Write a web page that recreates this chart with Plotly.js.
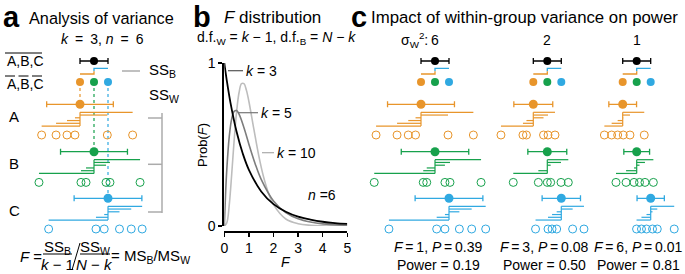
<!DOCTYPE html>
<html><head><meta charset="utf-8">
<script src="https://cdn.plot.ly/plotly-3.0.1.min.js"></script>
<style>html,body{margin:0;padding:0;background:#fff}#chart{width:685px;height:274px}</style>
</head><body><div id="chart"></div>
<script>
// ---------------- data ----------------
const groups = ['A', 'B', 'C'];
const groupMeans = [9, 10, 11];
const grandMean = 10;
const grandSd = 1.0;
// panel a (k = 3, n = 6)
const obsA_a = [6.26, 7.29, 8.07, 8.64, 10.95, 12.76];
const obsB_a = [6.07, 9.07, 9.43, 10.86, 11.14, 13.29];
const obsC_a = [6.76, 10.14, 10.73, 11.82, 12.66, 13.44];
const sd_a = [2.38, 2.39, 2.42];
// panel c, sigma_W^2 = 6
const obsA_s6 = [5.79, 7.29, 8.09, 8.61, 10.93, 12.74];
const obsB_s6 = [5.66, 9.16, 9.41, 10.71, 11.07, 13.29];
const obsC_s6 = [6.71, 10.12, 10.71, 11.74, 12.62, 13.62];
const sd_s6 = [2.39, 2.41, 2.42];
// panel c, sigma_W^2 = 2
const obsA_s2 = [6.69, 8.26, 8.51, 9.73, 10.05, 10.55];
const obsB_s2 = [7.57, 9.36, 10.0, 10.24, 10.98, 11.50];
const obsC_s2 = [9.16, 10.05, 10.34, 10.67, 11.81, 12.62];
const sd_s2 = [1.39, 1.39, 1.37];
// panel c, sigma_W^2 = 1
const obsA_s1 = [7.69, 8.21, 8.64, 9.04, 9.52, 10.54];
const obsB_s1 = [8.52, 9.24, 9.81, 10.20, 10.59, 11.19];
const obsC_s1 = [9.99, 10.34, 10.70, 11.13, 11.47, 12.68];
const sd_s1 = [0.99, 0.92, 0.975];
const sigma2Labels = ['6', '2', '1'];
const fLabels = ['1', '3', '6'];
const pLabels = ['0.39', '0.08', '0.01'];
const powerLabels = ['0.19', '0.50', '0.81'];
// panel b: F distribution densities (n = 6)
const fK3 = [0, 0.1, 0.25, 0.5, 0.75, 1, 1.5, 2, 2.5, 3, 3.5, 4, 4.5, 5];
const pK3 = [1, 0.894, 0.757, 0.578, 0.445, 0.345, 0.212, 0.134, 0.087, 0.057, 0.039, 0.026, 0.018, 0.013];
const fK5 = [0, 0.05, 0.1, 0.2, 0.3, 0.4, 0.5, 0.6, 0.8, 1, 1.25, 1.5, 2, 2.5, 3, 3.5, 4, 5];
const pK5 = [0, 0.192, 0.343, 0.547, 0.657, 0.703, 0.708, 0.686, 0.603, 0.502, 0.384, 0.286, 0.154, 0.082, 0.044, 0.024, 0.013, 0.004];
const fK10 = [0, 0.1, 0.2, 0.3, 0.4, 0.5, 0.6, 0.7, 0.8, 0.9, 1, 1.2, 1.4, 1.6, 1.8, 2, 2.5, 3, 3.5, 4, 5];
const pK10 = [0, 0.019, 0.127, 0.316, 0.525, 0.701, 0.819, 0.873, 0.873, 0.832, 0.764, 0.596, 0.432, 0.299, 0.2, 0.131, 0.043, 0.014, 0.0045, 0.0015, 0.0002];
const fTicks = [0, 1, 2, 3, 4, 5];
const probTicks = [0, 1];

// ---------------- layout constants ----------------
const W = 685, H = 274;
const FONT = 'Liberation Sans, Arial, Helvetica, sans-serif';
const COLORS = ['#E8952B', '#17A14C', '#30A9E1'];
const GRAY = '#ababab';
const PX_PER_UNIT = 14;
const GM_PX = {x: 94, x3: 435, x4: 547.3, x5: 636.7};
const GM_Y = 61, STEP_TOP = 68.3, STEP_MID = 71.2, STEP_BOT = 74, MEANS_Y = 82;
const GROUP_Y = [104.3, 151.7, 198.3];
const LINE_OFF = 8, LINE_STEP = 2.75, CIRC_OFF = 30.7;

function xrange(gm) { return [grandMean - gm / PX_PER_UNIT, grandMean + (W - gm) / PX_PER_UNIT]; }
const traces = [];
function seg(xa, xs, ys, color, width, dash) {
  traces.push({type: 'scatter', mode: 'lines', xaxis: xa, yaxis: 'y', x: xs, y: ys,
    line: {color: color, width: width, dash: dash || 'solid'}, hoverinfo: 'skip', showlegend: false});
}
function dot(xa, xs, ys, color, size, err) {
  const t = {type: 'scatter', mode: 'markers', xaxis: xa, yaxis: 'y', x: xs, y: ys,
    marker: {color: color, size: size, line: {width: 0}}, hoverinfo: 'skip', showlegend: false};
  if (err) t.error_x = {type: 'data', array: err, visible: true, color: color, thickness: 1.3, width: 3};
  traces.push(t);
}
function column(xa, obsList, sdList, dotted) {
  dot(xa, [grandMean], [GM_Y], '#000', 8, [grandSd]);
  seg(xa, [groupMeans[2], grandMean, grandMean], [STEP_TOP, STEP_TOP, STEP_MID], COLORS[2], 1.3);
  seg(xa, [grandMean, grandMean, groupMeans[0]], [STEP_MID, STEP_BOT, STEP_BOT], COLORS[0], 1.3);
  if (dotted) {
    groups.forEach((g, i) => seg(xa, [groupMeans[i], groupMeans[i]], [MEANS_Y, GROUP_Y[i]], COLORS[i], 1.2, 'dot'));
  }
  traces.push({type: 'scatter', mode: 'markers', xaxis: xa, yaxis: 'y', x: groupMeans, y: groupMeans.map(() => MEANS_Y),
    marker: {color: COLORS, size: 8}, hoverinfo: 'skip', showlegend: false});
  groups.forEach((g, i) => {
    const m = groupMeans[i];
    const sorted = obsList[i].slice().sort((a, b) => b - a);
    const lx = [], ly = [];
    sorted.forEach((v, j) => { const yy = GROUP_Y[i] + LINE_OFF + j * LINE_STEP; lx.push(m, v, null); ly.push(yy, yy, null); });
    seg(xa, lx, ly, COLORS[i], 1.2);
    seg(xa, [m, m], [GROUP_Y[i] + LINE_OFF, GROUP_Y[i] + LINE_OFF + (sorted.length - 1) * LINE_STEP], COLORS[i], 1.2);
    traces.push({type: 'scatter', mode: 'markers', xaxis: xa, yaxis: 'y', x: obsList[i], y: obsList[i].map(() => GROUP_Y[i] + CIRC_OFF),
      marker: {symbol: 'circle-open', color: COLORS[i], size: 8, line: {width: 1, color: COLORS[i]}}, hoverinfo: 'skip', showlegend: false});
    dot(xa, [m], [GROUP_Y[i]], COLORS[i], 9, [sdList[i]]);
  });
}
column('x', [obsA_a, obsB_a, obsC_a], sd_a, true);
column('x3', [obsA_s6, obsB_s6, obsC_s6], sd_s6, false);
column('x4', [obsA_s2, obsB_s2, obsC_s2], sd_s2, false);
column('x5', [obsA_s1, obsB_s1, obsC_s1], sd_s1, false);

// panel b curves
[[fK10, pK10, '#bdbdbd', 1.6], [fK5, pK5, '#7d7d7d', 1.6], [fK3, pK3, '#000', 1.8]].forEach(c => {
  traces.push({type: 'scatter', mode: 'lines', xaxis: 'x2', yaxis: 'y2', x: c[0], y: c[1],
    line: {color: c[2], width: c[3], shape: 'spline', smoothing: 1}, hoverinfo: 'skip', showlegend: false});
});

// ---------------- annotations & shapes ----------------
const P = px => px / W, Q = py => 1 - py / H;
const anns = [], shapes = [];
function txt(text, x, y, size, anchor, extra) {
  anns.push(Object.assign({text: text, xref: 'paper', yref: 'paper', x: P(x), y: Q(y), showarrow: false,
    xanchor: anchor || 'left', yanchor: 'middle', font: {family: FONT, size: size, color: '#000'}}, extra || {}));
}
function line(x0, y0, x1, y1, color, width) {
  shapes.push({type: 'line', xref: 'paper', yref: 'paper', x0: P(x0), y0: Q(y0), x1: P(x1), y1: Q(y1),
    line: {color: color, width: width}});
}
function bold(t, x) {
  anns.push({text: '<b>' + t + '</b>', xref: 'paper', yref: 'paper', x: P(x), y: 1, showarrow: false,
    xanchor: 'left', yanchor: 'top', borderpad: 0, font: {family: FONT, size: 29, color: '#000'}});
}
// panel a
bold('a', 2);
txt('Analysis of variance', 27, 17.8, 16.3);
txt('<i>k</i>\u2002=\u20023, <i>n</i>\u2002=\u20026', 102, 39.5, 14, 'center');
txt('A,B,C', 5, 61, 14); line(5, 53, 42, 53, '#000', 1);
txt('A,B,C', 5, 84, 14); line(5, 76, 15, 76, '#000', 1); line(18.5, 76, 28.5, 76, '#000', 1); line(32, 76, 42, 76, '#000', 1);
txt('SS<sub>B</sub>', 147, 70, 15);
txt('SS<sub>W</sub>', 147, 95, 15);
line(122, 71, 140, 71, GRAY, 1.5);
groups.forEach((g, i) => txt(g, 7, GROUP_Y[i] + 12, 15));
[118, 164.3, 212].forEach(y => line(148, y, 162, y, GRAY, 1.5));
line(162, 113, 162, 213, GRAY, 1.5);
// formula
txt('<i>F</i> =', 18, 256, 15);
txt('SS<sub>B</sub>', 57, 247, 15, 'center');
line(43, 254, 72, 254, '#000', 1);
txt('<i>k</i> − 1', 57, 264, 15, 'center');
line(72, 270, 80, 243, '#000', 1);
txt('SS<sub>W</sub>', 95, 247, 15, 'center');
line(80, 254, 110, 254, '#000', 1);
txt('<i>N</i> − <i>k</i>', 94, 264, 15, 'center');
txt('= MS<sub>B</sub>/MS<sub>W</sub>', 109, 256, 15);
// panel b
bold('b', 192);
txt('<i>F</i> distribution', 222, 17.6, 17);
txt('d.f.<sub>W</sub> = <i>k</i> − 1, d.f.<sub>B</sub> = <i>N</i> − <i>k</i>', 276, 38, 14, 'center');
txt('Prob(<i>F</i>)', 202, 145, 13, 'center', {textangle: -90});
txt('<i>F</i>', 286, 262, 14, 'center');
line(228, 70.7, 243, 70.7, '#555', 1.2); txt('<i>k</i> = 3', 244, 70.7, 14);
line(238, 112.7, 258, 112.7, '#777', 1.2); txt('<i>k</i> = 5', 259, 112.7, 14);
line(262, 152.7, 274, 152.7, '#aaa', 1.2); txt('<i>k</i> = 10', 275, 152.7, 14);
txt('<i>n</i> =6', 306, 194.5, 14);
// panel c
bold('c', 350);
txt('Impact of within-group variance on power', 369, 17.8, 16.8);
txt('σ<sub>W</sub><sup>2</sup>:', 430, 40, 14, 'right');
const colKeys = ['x3', 'x4', 'x5'];
const textCenters = [438.5, 544, 638.5];
colKeys.forEach((k, i) => {
  txt(sigma2Labels[i], GM_PX[k], 40, 14, 'center');
  txt('<i>F</i>\u2009=\u2009' + fLabels[i] + ', <i>P</i>\u2009=\u2009' + pLabels[i], textCenters[i], 247, 14, 'center');
  txt('Power = ' + powerLabels[i], textCenters[i], 265, 14, 'center');
});

const hidden = {visible: false, fixedrange: true, showgrid: false, zeroline: false};
const layout = {
  width: W, height: H, margin: {l: 0, r: 0, t: 0, b: 0, pad: 0},
  paper_bgcolor: '#fff', plot_bgcolor: 'rgba(0,0,0,0)', showlegend: false,
  font: {family: FONT, color: '#000'},
  xaxis: Object.assign({domain: [0, 1], range: xrange(GM_PX.x), anchor: 'y'}, hidden),
  xaxis3: Object.assign({overlaying: 'x', range: xrange(GM_PX.x3), anchor: 'y'}, hidden),
  xaxis4: Object.assign({overlaying: 'x', range: xrange(GM_PX.x4), anchor: 'y'}, hidden),
  xaxis5: Object.assign({overlaying: 'x', range: xrange(GM_PX.x5), anchor: 'y'}, hidden),
  yaxis: Object.assign({domain: [0, 1], range: [H, 0], anchor: 'x'}, hidden),
  xaxis2: {domain: [224.3 / W, 347.3 / W], range: [0, 5], anchor: 'free', position: Q(231),
    showline: true, linecolor: '#000', linewidth: 1.5, ticks: 'outside', ticklen: 4, tickwidth: 1.5, tickcolor: '#000',
    tickvals: fTicks, ticktext: fTicks.map(String), tickfont: {family: FONT, size: 14, color: '#000'},
    showgrid: false, zeroline: false, fixedrange: true},
  yaxis2: {domain: [Q(226), Q(63)], range: [0, 1], anchor: 'x2',
    showline: true, linecolor: '#000', linewidth: 2, ticks: 'outside', ticklen: 4, tickwidth: 1.5, tickcolor: '#000',
    tickvals: probTicks, ticktext: probTicks.map(String), tickfont: {family: FONT, size: 14, color: '#000'},
    showgrid: false, zeroline: false, fixedrange: true},
  annotations: anns, shapes: shapes
};
Plotly.newPlot('chart', traces, layout, {staticPlot: true, displayModeBar: false});
</script></body></html>
